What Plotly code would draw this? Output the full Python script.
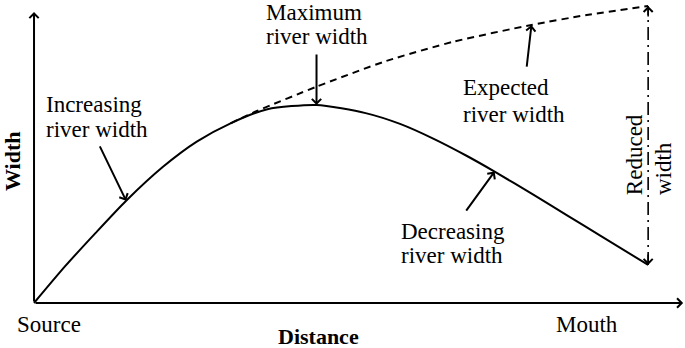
import plotly.graph_objects as go

# ---- data (schematic units: distance 0=source .. 100=mouth, width 0..100) ----
distance = [0, 5, 10, 15, 21, 26.5, 32, 38, 46, 54, 59.6, 65, 70.5, 75, 81.3, 86.8, 92.2, 100]
width_actual = [0, 12.1, 23.3, 34.1, 45.4, 53.8, 59.9, 64.6, 66.0, 63.3, 59.7, 54.8, 49.0, 43.8, 36.1, 29.2, 22.45, 12.7]

expected_distance = [32, 36.3, 46, 57.4, 68.3, 81, 90, 100]
expected_width = [59.9, 64.0, 72.1, 80.7, 87.1, 92.7, 96.0, 99.0]

x_labels = ["Source", "Mouth"]
axis_titles = ["Distance", "Width"]

FONT = "Liberation Serif"
FS = 23
BLACK = "black"

# axis ranges chosen so that the schematic fills the canvas
XR = [-5.54, 106.0]
YR = [-15.0, 101.0]

fig = go.Figure()

# actual river width (solid)
fig.add_trace(go.Scatter(x=distance, y=width_actual, mode="lines",
                         line=dict(color=BLACK, width=2, shape="spline", smoothing=0.65),
                         hoverinfo="skip"))
# expected river width (dashed)
fig.add_trace(go.Scatter(x=expected_distance, y=expected_width, mode="lines",
                         line=dict(color=BLACK, width=2, dash="7px,5px", shape="spline", smoothing=0.6),
                         hoverinfo="skip"))
# reduced width (dash-dot vertical at mouth)
fig.add_trace(go.Scatter(x=[distance[-1], expected_distance[-1]],
                         y=[width_actual[-1], expected_width[-1]], mode="lines",
                         line=dict(color=BLACK, width=1.6, dash="13px,5px,2px,5px"),
                         hoverinfo="skip"))

ann = []

def arrow(x, y, ax, ay, w=2, size=0.9):
    ann.append(dict(x=x, y=y, ax=ax, ay=ay, xref="x", yref="y", axref="x", ayref="y",
                    text="", showarrow=True, arrowhead=4, arrowsize=size,
                    arrowwidth=w, arrowcolor=BLACK, standoff=0, startstandoff=0))

def label(x, y, txt, xanchor="left", angle=0, bold=False, size=FS):
    t = f"<b>{txt}</b>" if bold else txt
    ann.append(dict(x=x, y=y, xref="x", yref="y", text=t, showarrow=False,
                    xanchor=xanchor, yanchor="middle", textangle=angle, borderpad=0,
                    font=dict(family=FONT, size=size, color=BLACK)))

# axes with arrows
arrow(0, 97, 0, 0, w=2)
arrow(105.7, 0, 0, 0, w=2)

# pointer arrows (tips on the curves)
arrow(distance[3], width_actual[3], 10.6, 52.7)
arrow(distance[8], width_actual[8], 46.0, 83.3)
arrow(expected_distance[5], expected_width[5], 80.2, 78.3)
arrow(distance[13], width_actual[13], 70.2, 30.3)

# reduced-width arrowheads
arrow(expected_distance[-1], expected_width[-1], expected_distance[-1], expected_width[-1] - 4, w=1.6, size=1.1)
arrow(distance[-1], width_actual[-1], distance[-1], width_actual[-1] + 4, w=1.6, size=1.1)

# text
label(1.8, 66.3, "Increasing")
label(1.8, 58.0, "river width")
label(37.6, 96.7, "Maximum")
label(37.6, 88.7, "river width")
label(69.7, 72.0, "Expected")
label(69.7, 62.7, "river width")
label(59.6, 23.7, "Decreasing")
label(59.6, 15.7, "river width")
label(97.7, 49.3, "Reduced", xanchor="center", angle=-90)
label(102.6, 44.7, "width", xanchor="center", angle=-90)
label(-3.0, -7.3, x_labels[0])
label(84.8, -7.3, x_labels[1])
label(46.3, -11.2, axis_titles[0], xanchor="center", bold=True, size=22)
label(-3.6, 47.3, axis_titles[1], xanchor="center", angle=-90, bold=True, size=22)

fig.update_layout(
    width=685, height=348,
    margin=dict(l=0, r=0, t=0, b=0),
    paper_bgcolor="white", plot_bgcolor="white",
    showlegend=False,
    xaxis=dict(range=XR, visible=False, fixedrange=True),
    yaxis=dict(range=YR, visible=False, fixedrange=True),
    annotations=ann,
)

fig.write_html("out.html", config={"displayModeBar": False},
               post_script="document.body.style.margin='0';document.body.style.overflow='hidden';")
